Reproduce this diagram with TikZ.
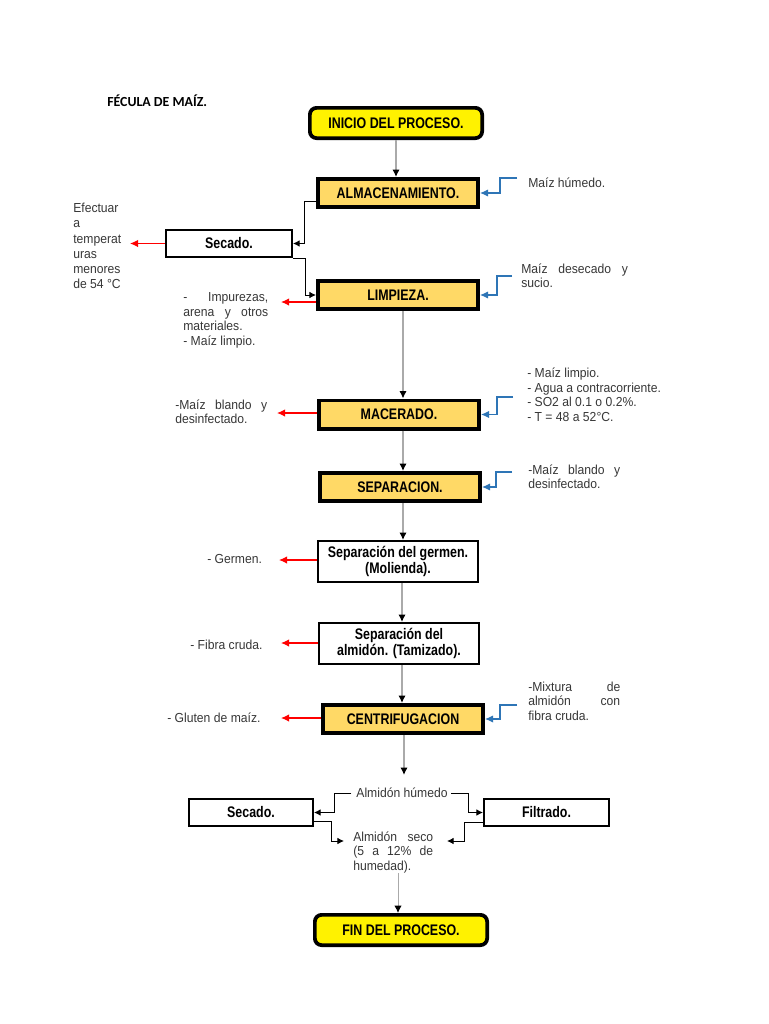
\documentclass[tikz,border=0pt]{standalone}
\usepackage{fontspec}
\setmainfont{Liberation Sans}
\newfontfamily\boxfont[FakeStretch=0.81]{Liberation Sans}
\newfontfamily\notefont[FakeStretch=0.93]{Liberation Sans}
\newfontfamily\titlefont{Carlito}
\usetikzlibrary{arrows.meta,calc}
\definecolor{gold}{RGB}{255,217,102}
\definecolor{bluearr}{RGB}{46,117,182}
\definecolor{txtgray}{RGB}{55,55,55}
\definecolor{flowgray}{RGB}{170,170,170}
\begin{document}
\begin{tikzpicture}[x=0.75pt,y=-0.75pt,
 procbox/.style={draw=black, line width=2.8pt, fill=gold, font=\boxfont\bfseries\fontsize{11.5}{12}\selectfont, inner sep=0pt, minimum width=120.2pt, minimum height=21.2pt},
 termbox/.style={procbox, fill=yellow, rounded corners=5pt, minimum width=129.2pt, minimum height=22.7pt},
 opbox/.style={draw=black, line width=1.5pt, fill=white, font=\boxfont\bfseries\fontsize{11.5}{11.5}\selectfont, align=center, inner sep=0pt},
 note/.style={font=\notefont\fontsize{9.8}{11}\selectfont, text=txtgray, inner sep=0pt, anchor=north west, execute at begin node=\strut},
 jnote/.style={note, align=justify},
 flow/.style={draw=flowgray, line width=1.2pt, -{Latex[length=5.5pt,width=5.5pt,color=black]}},
 thinflow/.style={draw=flowgray, line width=0.7pt, -{Latex[length=5.5pt,width=5.5pt,color=black]}},
 link/.style={draw=black, line width=0.7pt, -{Latex[length=5pt,width=5pt]}},
 outarr/.style={draw=red, line width=0.8pt, -{Latex[length=6pt,width=5.5pt]}},
 inarr/.style={draw=bluearr, line width=0.9pt, -{Latex[length=6pt,width=5.5pt]}},
]
\useasboundingbox[fill=white] (0,0) rectangle (768,1024);

% title
\node[font=\titlefont\bfseries\fontsize{10.4}{12}\selectfont, anchor=west, inner sep=0pt] (title) at (107,101) {FÉCULA DE MAÍZ.};

% main boxes
\node[termbox] (inicio) at (396,123) {INICIO DEL PROCESO.};
\node[procbox] (almac) at (398,193) {ALMACENAMIENTO.};
\node[opbox, minimum width=94.5pt, minimum height=20.25pt] (sec1) at (229,243.5) {Secado.};
\node[procbox] (limp) at (398,295) {LIMPIEZA.};
\node[procbox] (mac) at (399,414.5) {MACERADO.};
\node[procbox] (sep) at (400,487) {SEPARACION.};
\node[opbox, minimum width=120pt, minimum height=30.75pt] (germ) at (398,561.5) {Separación del germen.\\(Molienda).};
\node[opbox, minimum width=120pt, minimum height=30.75pt] (almi) at (399,643.5) {Separación del\\almidón. (Tamizado).};
\node[procbox] (cent) at (403,719) {CENTRIFUGACION};
\node[opbox, minimum width=93pt, minimum height=20.25pt] (sec2) at (251,812.5) {Secado.};
\node[opbox, minimum width=93.75pt, minimum height=20.25pt] (filt) at (546.5,812.5) {Filtrado.};
\node[termbox] (fin) at (401,930) {FIN DEL PROCESO.};

% bottom texts
\node[font=\notefont\fontsize{9.8}{11}\selectfont, text=txtgray, inner sep=0pt] (hum) at (402,793) {Almidón húmedo};
\node[jnote, text width=60pt] (seco) at (353,830.5) {Almidón seco\linebreak (5 a 12\% de\linebreak humedad).};

% side notes left
\node[note, align=left, font=\notefont\fontsize{9.8}{11.4}\selectfont] (nefe) at (73,203) {Efectuar\\a\\temperat\\uras\\menores\\de 54 °C};
\node[jnote, text width=63.75pt] (nimp) at (183,291) {- Impurezas,\linebreak arena y otros\linebreak materiales.\\- Maíz limpio.};
\node[jnote, text width=69pt] (nmacl) at (175,398.5) {-Maíz blando y\linebreak desinfectado.};
\node[note] (ngerm) at (207,552.5) {- Germen.};
\node[note] (nfib) at (190,638.5) {- Fibra cruda.};
\node[note] (nglu) at (167,711.5) {- Gluten de maíz.};

% side notes right
\node[note] (nhum) at (528,176.5) {Maíz húmedo.};
\node[jnote, text width=80pt] (ndes) at (521,262.5) {Maíz desecado y\linebreak sucio.};
\node[note, align=left] (nmacr) at (527,367.5) {- Maíz limpio.\\- Agua a contracorriente.\\- SO2 al 0.1 o 0.2\%.\\- T = 48 a 52°C.};
\node[jnote, text width=69pt] (nsep) at (528,463.5) {-Maíz blando y\linebreak desinfectado.};
\node[jnote, text width=69pt] (nmix) at (528,680.5) {-Mixtura de\linebreak almidón con\linebreak fibra cruda.};

% helper coordinates
\coordinate (c403) at (403,0);
\coordinate (c402) at (402,0);
\coordinate (c398) at (398,0);
\coordinate (humend) at (404,775);

% vertical flow
\draw[flow] (inicio.south) -- (inicio.south |- almac.north);
\draw[flow] (limp.south -| c403) -- (mac.north -| c403);
\draw[flow] (mac.south -| c403) -- (sep.north -| c403);
\draw[flow] (sep.south -| c403) -- (germ.north -| c403);
\draw[flow] (germ.south -| c402) -- (almi.north -| c402);
\draw[flow] (almi.south -| c402) -- (cent.north -| c402);
\draw[flow] (cent.south -| humend) -- (humend);
\draw[thinflow] (seco.south -| c398) -- (fin.north -| c398);

% secado branch (top)
\draw[link] ($(almac.west)+(0,8)$) -- ++(-12,0) |- (sec1.east);
\draw[link] (sec1.south east) -- ++(12,0) |- (limp.west);

% red outputs
\coordinate (r1) at (130,243.5);
\coordinate (r2) at (281,302);
\coordinate (r3) at (277,413);
\coordinate (r4) at (279,560);
\coordinate (r5) at (281,643);
\coordinate (r6) at (281,718);
\draw[outarr] (sec1.west) -- (r1);
\draw[outarr] (limp.west |- r2) -- (r2);
\draw[outarr] (mac.west |- r3) -- (r3);
\draw[outarr] (germ.west |- r4) -- (r4);
\draw[outarr] (almi.west |- r5) -- (r5);
\draw[outarr] (cent.west |- r6) -- (r6);

% blue inputs
\coordinate (b1) at (517,178);
\coordinate (b2) at (512,276);
\coordinate (b3) at (513,397);
\coordinate (b4) at (512,472);
\coordinate (b5) at (517,705);
\draw[inarr] (b1) -- ++(-17,0) |- (almac.east);
\draw[inarr] (b2) -- ++(-15,0) |- (limp.east);
\draw[inarr] (b3) -- ++(-16,0) |- (mac.east);
\draw[inarr] (b4) -- ++(-16,0) |- (sep.east);
\draw[inarr] (b5) -- ++(-17,0) |- (cent.east);

% bottom branches
\coordinate (sL) at (344,841);
\coordinate (sR) at (447,841);
\draw[link] ([xshift=-3.5pt]hum.west) -- ++(-17,0) |- (sec2.east);
\draw[link] ([xshift=2.5pt]hum.east) -- ++(17,0) |- (filt.west);
\draw[link] ($(sec2.east)+(0,9)$) -- ++(17,0) |- (sL);
\draw[link] ($(filt.west)+(0,9.5)$) -- ++(-19,0) |- (sR);
\end{tikzpicture}
\end{document}
